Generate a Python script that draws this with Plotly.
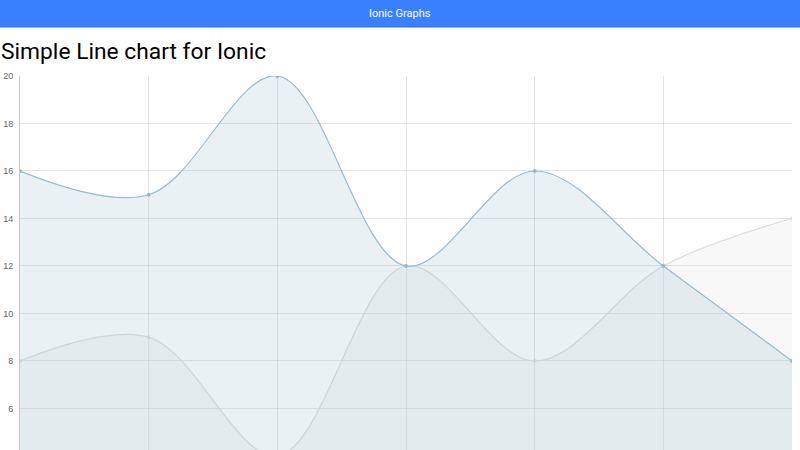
import plotly.graph_objects as go

# dati
labels = ["A", "B", "C", "D", "E", "F", "G"]
serie_a = [16, 15, 20, 12, 16, 12, 8]
serie_b = [8, 9, 4, 12, 8, 12, 14]
y_ticks = [6, 8, 10, 12, 14, 16, 18, 20]

# dimensioni area grafico (pixel)
L, R, T, B = 20, 8, 76, 0
W, H = 800, 450
PW, PH = W - L - R, H - T - B

fig = go.Figure()

# serie grigia
fig.add_trace(go.Scatter(
    x=labels,
    y=serie_b,
    mode="lines+markers",
    line=dict(color="rgb(220,220,220)", width=1.2, shape="spline", smoothing=1.0),
    marker=dict(size=4, color="rgb(220,220,220)"),
    fill="tozeroy",
    fillcolor="rgba(220,220,220,0.2)",
    showlegend=False
))

# serie blu
fig.add_trace(go.Scatter(
    x=labels,
    y=serie_a,
    mode="lines+markers",
    line=dict(color="rgb(151,187,205)", width=1.2, shape="spline", smoothing=1.0),
    marker=dict(size=4, color="rgb(151,187,205)"),
    fill="tozeroy",
    fillcolor="rgba(151,187,205,0.2)",
    showlegend=False
))

fig.update_layout(
    width=W,
    height=H,
    margin=dict(l=L, r=R, t=T, b=B),
    paper_bgcolor="white",
    plot_bgcolor="white",
    font=dict(family="Liberation Sans, Arial", color="#666", size=9),
    hovermode=False,
    xaxis=dict(
        type="category",
        range=[0, 6],
        showticklabels=False,
        showgrid=True,
        gridcolor="rgba(0,0,0,0.1)",
        gridwidth=1,
        zeroline=False,
        showline=False,
        automargin=False
    ),
    yaxis=dict(
        range=[4.25, 20],
        tickvals=y_ticks,
        showgrid=True,
        gridcolor="rgba(0,0,0,0.1)",
        zeroline=False,
        showline=True,
        linecolor="rgba(0,0,0,0.22)",
        linewidth=1,
        ticks="",
        ticklabelstandoff=4,
        automargin=False
    ),
    shapes=[
        # barra superiore stile Ionic
        dict(type="rect", xref="paper", yref="paper",
             x0=-L / PW, x1=1 + R / PW, y0=1 + (T - 27) / PH, y1=1 + T / PH,
             fillcolor="#3880ff", line=dict(width=0), layer="above"),
        dict(type="line", xref="paper", yref="paper",
             x0=-L / PW, x1=1 + R / PW, y0=1 + (T - 27) / PH, y1=1 + (T - 27) / PH,
             line=dict(color="#3171e0", width=1))
    ],
    annotations=[
        dict(text="Ionic Graphs", xref="paper", yref="paper",
             x=(400 - L) / PW, y=1 + (T - 13) / PH, showarrow=False,
             xanchor="center", yanchor="middle",
             font=dict(family="Roboto", size=11, color="white")),
        dict(text="Simple Line chart for Ionic", xref="paper", yref="paper",
             x=-(L + 1) / PW, y=1 + (T - 52) / PH, showarrow=False,
             xanchor="left", yanchor="middle",
             font=dict(family="Roboto", size=22.8, color="black"))
    ]
)

fig.write_html("out.html", config={"displayModeBar": False},
               post_script="document.body.style.margin='0';")
